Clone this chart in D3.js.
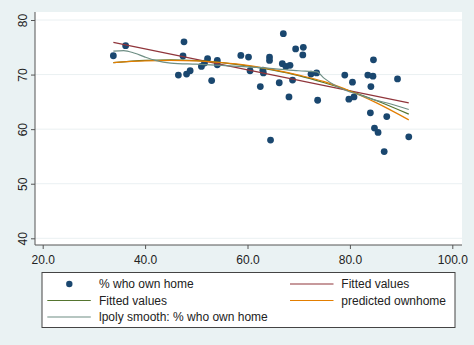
<!DOCTYPE html>
<html>
<head>
<meta charset="utf-8">
<script src="https://cdn.jsdelivr.net/npm/d3@7"></script>
<style>
  html, body { margin: 0; padding: 0; background: #eaf2f3; }
  svg { display: block; }
  text { font-family: "Liberation Sans", Arial, sans-serif; }
</style>
</head>
<body>
<svg id="chart"></svg>
<script>
// % who own home, by state (x = urban %, y = own home %)
const pointX = [33.8, 36.2, 46.5, 47.4, 47.6, 48.1, 48.8, 51.0, 51.6, 52.2,
    53.0, 54.1, 54.1, 58.7, 60.2, 60.5, 62.5, 63.0, 63.1, 64.3,
    64.3, 66.2, 67.0, 66.8, 67.5, 68.3, 68.1, 68.8, 69.4, 70.9,
    70.8, 72.4, 73.5, 73.7, 64.5, 79.0, 80.5, 79.8, 80.8, 83.5,
    84.5, 84.6, 84.1, 89.3, 84.0, 87.2, 84.8, 85.5, 86.7, 91.5];
const pointY = [73.45, 75.3, 69.9, 73.4, 76.0, 70.1, 70.7, 71.5, 72.1, 72.9,
    68.9, 72.6, 71.8, 73.5, 73.2, 70.7, 67.8, 70.8, 70.3, 73.2,
    72.6, 68.5, 77.5, 72.0, 71.5, 71.7, 65.9, 69.0, 74.7, 75.0,
    73.6, 70.1, 70.3, 65.3, 58.0, 69.9, 68.6, 65.5, 65.9, 69.9,
    69.7, 72.7, 67.8, 69.2, 63.0, 62.3, 60.2, 59.4, 55.9, 58.6];

// linear fit (Fitted values, red)
const linX = [33.8, 91.5];
const linY = [75.9, 64.8];

// quadratic fit (Fitted values, green)
const quadX = [33.8, 40, 45, 50, 55, 60, 65, 70, 75, 80, 85, 91.5];
const quadY = [72.2, 72.6, 72.7, 72.55, 72.2, 71.6, 70.8, 69.8, 68.5, 67.0, 65.3, 62.75];

// predicted ownhome (orange)
const predX = [33.8, 40, 45, 50, 55, 60, 65, 70, 75, 80, 85, 91.5];
const predY = [72.2, 72.5, 72.6, 72.5, 72.2, 71.7, 70.9, 69.9, 68.7, 67.0, 64.9, 61.7];

// lpoly smooth (teal)
const lpolyX = [33.8, 35.8, 38, 40, 42, 45, 50, 55, 60, 65, 70, 73.5, 75, 77.5, 79.5, 81.5, 84, 88, 91.5];
const lpolyY = [74.3, 74.4, 73.9, 73.2, 72.6, 72.1, 71.9, 71.7, 71.4, 71.1, 70.7, 70.5, 69.3, 67.8, 67.0, 66.4, 65.6, 64.6, 63.6];

const xTicks = [20, 40, 60, 80, 100];
const yTicks = [40, 50, 60, 70, 80];

const legendItems = [
    {label: "% who own home", type: "marker", color: "#1a476f"},
    {label: "Fitted values", type: "line", color: "#90353b"},
    {label: "Fitted values", type: "line", color: "#55752f"},
    {label: "predicted ownhome", type: "line", color: "#e37e00"},
    {label: "lpoly smooth: % who own home", type: "line", color: "#6e8e84"}
];

const width = 474, height = 345;
const plotLeft = 35, plotRight = 462, plotTop = 12, plotBottom = 245;

const svg = d3.select("#chart")
    .attr("width", width)
    .attr("height", height)
    .attr("viewBox", [0, 0, width, height]);

svg.append("rect")
    .attr("width", width).attr("height", height)
    .attr("fill", "#eaf2f3");

svg.append("rect")
    .attr("x", plotLeft).attr("y", plotTop)
    .attr("width", plotRight - plotLeft).attr("height", plotBottom - plotTop)
    .attr("fill", "#ffffff");

const x = d3.scaleLinear().domain([20, 100]).range([42.7, 452.3]);
const y = d3.scaleLinear().domain([40, 80]).range([238.3, 20]);

// grid lines
svg.append("g")
    .selectAll("line")
    .data(yTicks)
    .join("line")
    .attr("x1", plotLeft).attr("x2", plotRight)
    .attr("y1", d => y(d)).attr("y2", d => y(d))
    .attr("stroke", "#eaf0f2")
    .attr("stroke-width", 1);

// y axis
const yAxis = svg.append("g")
    .attr("transform", `translate(${plotLeft},0)`)
    .call(d3.axisLeft(y).tickValues(yTicks).tickSize(4).tickSizeOuter(0));
yAxis.select(".domain").attr("d", `M0,${plotTop}V${plotBottom}`);
yAxis.selectAll(".domain, .tick line").attr("stroke", "#555");
yAxis.selectAll(".tick text")
    .attr("transform", "rotate(-90)")
    .attr("x", 0).attr("y", -8.5).attr("dy", 0)
    .attr("text-anchor", "middle")
    .attr("font-size", "12px")
    .attr("fill", "#222");

// x axis
const xAxis = svg.append("g")
    .attr("transform", `translate(0,${plotBottom})`)
    .call(d3.axisBottom(x).tickValues(xTicks).tickSize(4).tickSizeOuter(0).tickFormat(d3.format(".1f")));
xAxis.select(".domain").attr("d", `M${plotLeft},0H${plotRight}`);
xAxis.selectAll(".domain, .tick line").attr("stroke", "#555");
xAxis.selectAll(".tick text")
    .attr("y", 18.5).attr("dy", 0)
    .attr("font-size", "12px")
    .attr("fill", "#222");

svg.selectAll(".domain, .tick line").attr("stroke-width", 1);
svg.selectAll(".tick text").attr("font-family", "Liberation Sans, Arial, sans-serif");

// scatter
svg.append("g")
    .selectAll("circle")
    .data(d3.range(pointX.length))
    .join("circle")
    .attr("cx", i => x(pointX[i]))
    .attr("cy", i => y(pointY[i]))
    .attr("r", 3.4)
    .attr("fill", "#1a476f");

const line = d3.line().x(d => x(d[0])).y(d => y(d[1])).curve(d3.curveMonotoneX);

const series = [
    {xs: linX, ys: linY, color: "#90353b"},
    {xs: quadX, ys: quadY, color: "#55752f"},
    {xs: predX, ys: predY, color: "#e37e00"},
    {xs: lpolyX, ys: lpolyY, color: "#6e8e84"}
];

for (let s of series) {
    svg.append("path")
        .datum(d3.zip(s.xs, s.ys))
        .attr("d", line)
        .attr("fill", "none")
        .attr("stroke", s.color)
        .attr("stroke-width", 1.2);
}

// legend
const legend = svg.append("g");
legend.append("rect")
    .attr("x", 42).attr("y", 272.5)
    .attr("width", 413).attr("height", 55)
    .attr("fill", "#ffffff")
    .attr("stroke", "#444")
    .attr("stroke-width", 1);

const colKeyX = [47.3, 290], colTextX = [99, 341.3];
const rowY = [284, 300.5, 317];

legendItems.forEach((item, i) => {
    let col = i % 2, row = Math.floor(i / 2);
    let g = legend.append("g").attr("transform", `translate(0,${rowY[row]})`);
    if (item.type === "marker") {
        g.append("circle")
            .attr("cx", colKeyX[col] + 22).attr("cy", 0)
            .attr("r", 3.2)
            .attr("fill", item.color);
    } else {
        g.append("line")
            .attr("x1", colKeyX[col]).attr("x2", colKeyX[col] + 43.5)
            .attr("y1", 0).attr("y2", 0)
            .attr("stroke", item.color)
            .attr("stroke-width", 1.2);
    }
    g.append("text")
        .attr("x", colTextX[col])
        .attr("y", 0)
        .attr("dy", "0.35em")
        .attr("font-size", "12px")
        .attr("fill", "#222")
        .text(item.label);
});
</script>
</body>
</html>
